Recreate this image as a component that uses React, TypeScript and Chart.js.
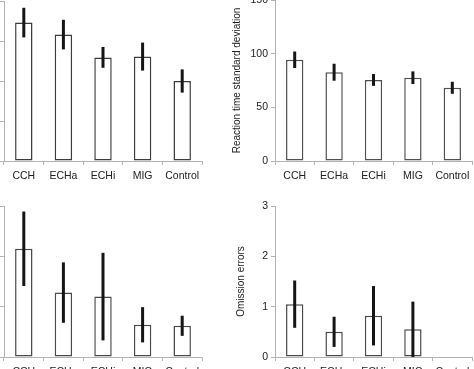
import React, { useEffect, useRef } from 'react';
import { Chart, registerables } from 'chart.js';
Chart.register(...registerables);

const categories = ['CCH', 'ECHa', 'ECHi', 'MIG', 'Control'];

// Top-left panel (mean reaction time; axis labels cropped off the figure)
const rtMean = [346, 316, 259, 261, 200];
const rtErr = [37, 37, 26, 35, 29];
const rtTicks = { max: 400, step: 100 };

// Top-right panel
const rtSdMean = [94.3, 82.7, 75.5, 77.6, 68.2];
const rtSdErr = [7.7, 7.9, 5.5, 5.9, 5.6];
const rtSdTicks = { max: 150, step: 50 };
const rtSdTitle = 'Reaction time standard deviation';

// Bottom-left panel (axis labels cropped off the figure)
const commissionMean = [2.15, 1.28, 1.2, 0.64, 0.62];
const commissionErr = [0.74, 0.6, 0.87, 0.35, 0.2];
const commissionTicks = { max: 3, step: 1 };

// Bottom-right panel
const omissionMean = [1.05, 0.5, 0.82, 0.55, 0];
const omissionErr = [0.47, 0.3, 0.59, 0.55, 0];
const omissionTicks = { max: 3, step: 1 };
const omissionTitle = 'Omission errors';

const FONT = '"Liberation Sans", Arial, Helvetica, sans-serif';
const AXIS = '#b3b3b3';

const errorBarPlugin = {
  id: 'errorBars',
  afterDatasetsDraw(chart: any, _args: any, opts: any) {
    const errs: number[] = opts.errors;
    if (!errs) return;
    const meta = chart.getDatasetMeta(0);
    const ys = chart.scales.y;
    const ctx = chart.ctx;
    ctx.save();
    ctx.strokeStyle = opts.color;
    ctx.lineWidth = opts.width;
    meta.data.forEach((bar: any, i: number) => {
      const v = chart.data.datasets[0].data[i] as number;
      const e = errs[i];
      if (!e) return;
      ctx.beginPath();
      ctx.moveTo(bar.x, ys.getPixelForValue(v + e));
      ctx.lineTo(bar.x, ys.getPixelForValue(Math.max(0, v - e)));
      ctx.stroke();
    });
    ctx.restore();
  },
};

type PanelProps = {
  L: number; T: number; R: number; B: number;
  values: number[]; errors: number[];
  yMax: number; yStep: number;
  title?: string; titlePad?: number;
  barColor: string;
};

function Panel({ L, T, R, B, values, errors, yMax, yStep, title, titlePad, barColor }: PanelProps) {
  const ref = useRef<HTMLCanvasElement | null>(null);
  const padT = 12, padR = 8, padB = 4, Wy = 50, Hx = 30;
  const left = L - Wy;
  const top = T - padT;
  const width = R + padR - left;
  const height = B + Hx + padB - top;

  useEffect(() => {
    if (!ref.current) return;
    const chart = new Chart(ref.current, {
      type: 'bar',
      data: {
        labels: categories,
        datasets: [{
          data: values,
          backgroundColor: '#ffffff',
          borderColor: barColor,
          borderWidth: 1.5,
          borderSkipped: false,
          barPercentage: 0.44,
          categoryPercentage: 1,
        }],
      },
      options: {
        responsive: false,
        animation: false,
        layout: { padding: { left: 0, top: padT, right: padR, bottom: padB } },
        plugins: {
          legend: { display: false },
          tooltip: { enabled: false },
          // @ts-ignore
          errorBars: { errors, color: '#151515', width: 3 },
        },
        scales: {
          x: {
            grid: { drawOnChartArea: false, tickLength: 4, color: AXIS, offset: true },
            border: { color: AXIS },
            ticks: {
              padding: 5, color: '#222', font: { family: FONT, size: 10.5 },
              maxRotation: 0, minRotation: 0, autoSkip: false,
            },
            afterFit: (s: any) => { s.height = Hx; },
          },
          y: {
            min: 0,
            max: yMax,
            ticks: { stepSize: yStep, padding: 3, color: '#222', font: { family: FONT, size: 10.5 } },
            grid: { drawOnChartArea: false, tickLength: 4, color: AXIS },
            border: { color: AXIS },
            title: title
              ? { display: true, text: title, color: '#222', font: { family: FONT, size: 10 }, padding: { top: titlePad ?? 6, bottom: 0 } }
              : { display: false },
            afterFit: (s: any) => { s.width = Wy; },
          },
        },
      } as any,
      plugins: [errorBarPlugin],
    });
    return () => chart.destroy();
  }, []);

  return (
    <canvas
      ref={ref}
      width={width}
      height={height}
      style={{ position: 'absolute', left, top, width, height }}
    />
  );
}

export default function App() {
  return (
    <div
      style={{
        position: 'fixed', left: 0, top: 0, width: 474, height: 369,
        overflow: 'hidden', background: '#ffffff',
      }}
    >
      <Panel L={4} T={1} R={202} B={161} values={rtMean} errors={rtErr}
        yMax={rtTicks.max} yStep={rtTicks.step} barColor="#3c3c3c" />
      <Panel L={275} T={0} R={472} B={161} values={rtSdMean} errors={rtSdErr}
        yMax={rtSdTicks.max} yStep={rtSdTicks.step} title={rtSdTitle} titlePad={6} barColor="#505050" />
      <Panel L={4} T={206} R={202} B={357} values={commissionMean} errors={commissionErr}
        yMax={commissionTicks.max} yStep={commissionTicks.step} barColor="#4a4a4a" />
      <Panel L={275} T={206} R={472} B={357} values={omissionMean} errors={omissionErr}
        yMax={omissionTicks.max} yStep={omissionTicks.step} title={omissionTitle} titlePad={10} barColor="#4a4a4a" />
    </div>
  );
}
